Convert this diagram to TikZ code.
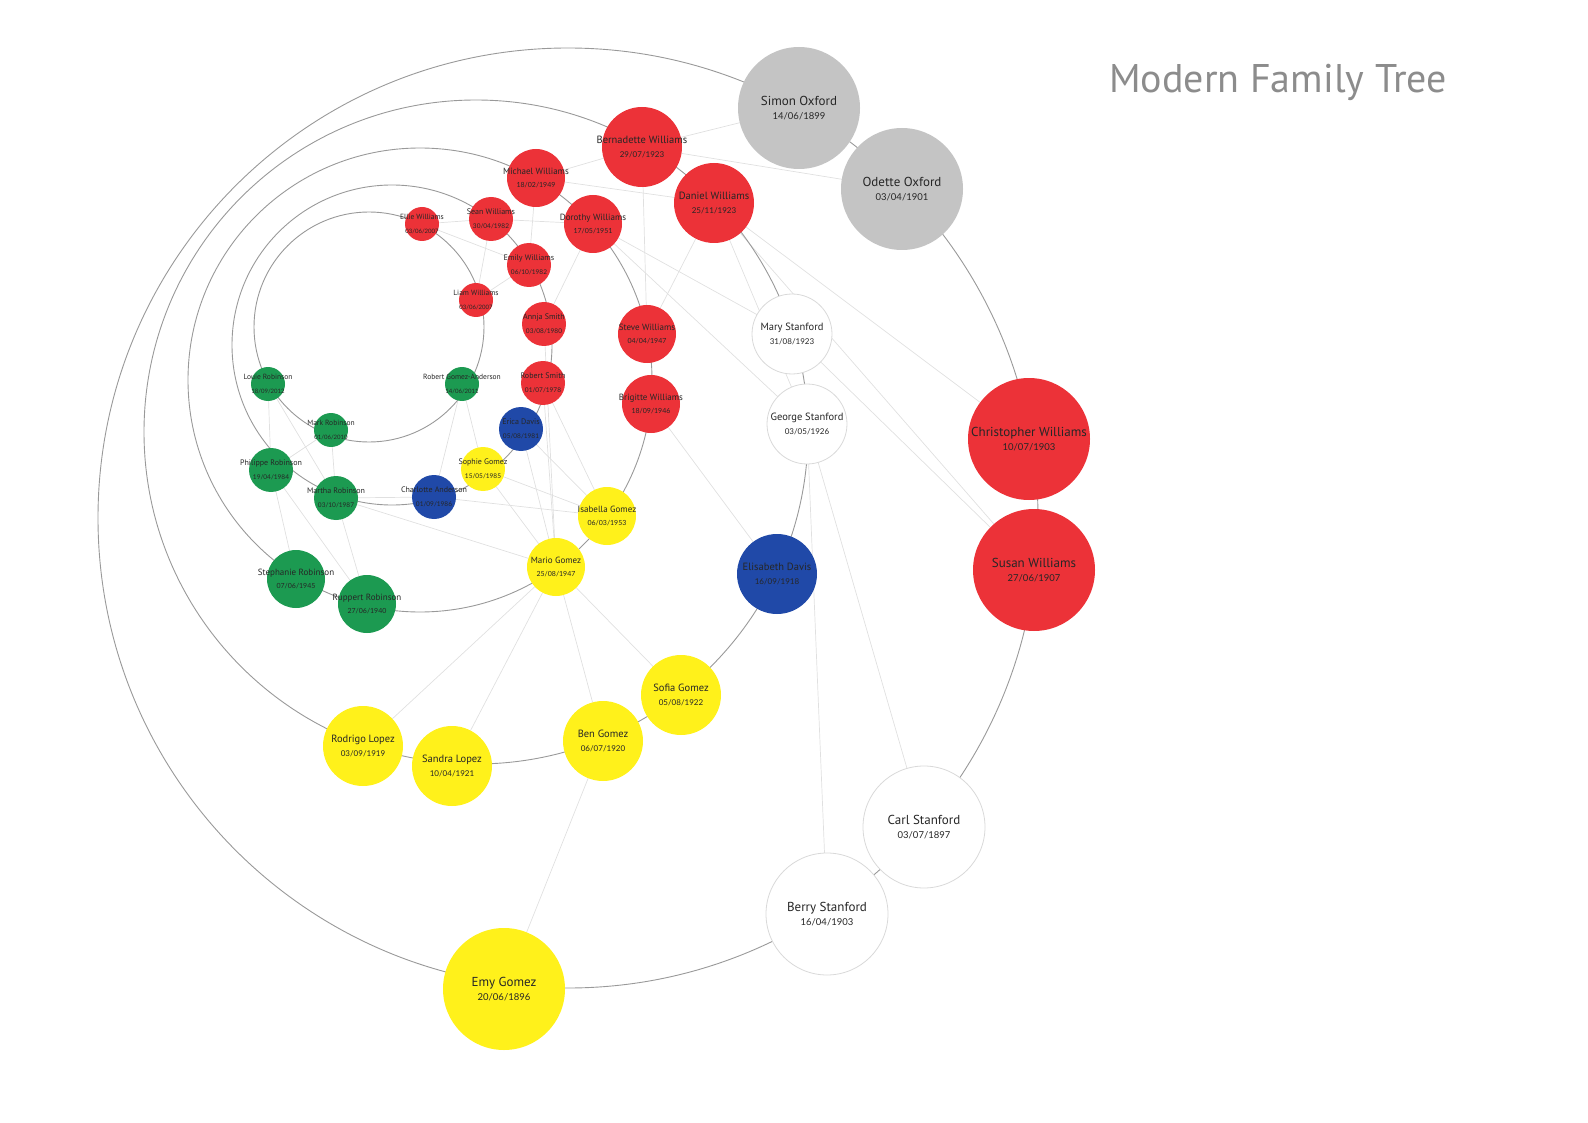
\documentclass[tikz,border=0pt]{standalone}
\usepackage{fontspec}
\setmainfont{PT Sans}
\newfontfamily\datefont{Lato}
\usetikzlibrary{backgrounds}
\definecolor{cred}{HTML}{EC3238}
\definecolor{cgray}{HTML}{C4C4C4}
\definecolor{cgreen}{HTML}{1C9A51}
\definecolor{cblue}{HTML}{2049A8}
\definecolor{cyel}{HTML}{FFF11B}
\tikzset{
 pbase/.style={circle,inner sep=0pt,outer sep=0pt},
 pred/.style={pbase,fill=cred},
 pgray/.style={pbase,fill=cgray},
 pgreen/.style={pbase,fill=cgreen},
 pblue/.style={pbase,fill=cblue},
 pyel/.style={pbase,fill=cyel},
 pwhite/.style={pbase,fill=white,draw=black!15,line width=0.8pt},
 ptext/.style={align=center,inner sep=0pt,text=black!85},
 rel/.style={draw=black!12,line width=0.7pt},
 arc/.style={draw=black!40,line width=0.9pt},
}
% \pers{id}{x}{y}{r}{style}{name}{date}{namesize}{datesize}
\newcommand\pers[9]{\node[#5,minimum size=#4*2pt] (#1) at (#2,#3) {};
 \node[ptext] (#1-t) at (#1) {\fontsize{#8}{#8}\selectfont #6\\[1.5pt]{\datefont\fontsize{#9}{#9}\selectfont #7}};}
\begin{document}
\begin{tikzpicture}[x=1pt,y=-1pt]
\useasboundingbox (0,0) rectangle (1588,1123);
\node[text=black!45,font=\fontsize{40}{40}\selectfont] (title) at (1278,82) {Modern Family Tree};
\pers{simon}{799}{108}{61}{pgray}{Simon Oxford}{14/06/1899}{13}{9.5}
\pers{odette}{902}{189}{61}{pgray}{Odette Oxford}{03/04/1901}{13}{9.5}
\pers{christ}{1029}{439}{61}{pred}{Christopher Williams}{10/07/1903}{13}{9.5}
\pers{susan}{1034}{570}{61}{pred}{Susan Williams}{27/06/1907}{13}{9.5}
\pers{carl}{924}{827}{61}{pwhite}{Carl Stanford}{03/07/1897}{13}{9.5}
\pers{berry}{827}{914}{61}{pwhite}{Berry Stanford}{16/04/1903}{13}{9.5}
\pers{emy}{504}{989}{61}{pyel}{Emy Gomez}{20/06/1896}{13}{9.5}
\pers{bern}{642}{147}{40}{pred}{Bernadette Williams}{29/07/1923}{10.5}{8}
\pers{daniel}{714}{203}{40}{pred}{Daniel Williams}{25/11/1923}{10.5}{8}
\pers{mary}{792}{334}{40}{pwhite}{Mary Stanford}{31/08/1923}{10.5}{8}
\pers{george}{807}{424}{40}{pwhite}{George Stanford}{03/05/1926}{10.5}{8}
\pers{elis}{777}{574}{40}{pblue}{Elisabeth Davis}{16/09/1918}{10.5}{8}
\pers{sofia}{681}{695}{40}{pyel}{Sofia Gomez}{05/08/1922}{10.5}{8}
\pers{ben}{603}{741}{40}{pyel}{Ben Gomez}{06/07/1920}{10.5}{8}
\pers{sandra}{452}{766}{40}{pyel}{Sandra Lopez}{10/04/1921}{10.5}{8}
\pers{rodrigo}{363}{746}{40}{pyel}{Rodrigo Lopez}{03/09/1919}{10.5}{8}
\pers{michael}{536}{178}{29}{pred}{Michael Williams}{18/02/1949}{9}{7}
\pers{dorothy}{593}{224}{29}{pred}{Dorothy Williams}{17/05/1951}{9}{7}
\pers{steve}{647}{334}{29}{pred}{Steve Williams}{04/04/1947}{9}{7}
\pers{brig}{651}{404}{29}{pred}{Brigitte Williams}{18/09/1946}{9}{7}
\pers{isab}{607}{516}{29}{pyel}{Isabella Gomez}{06/03/1953}{9}{7}
\pers{mario}{556}{567}{29}{pyel}{Mario Gomez}{25/08/1947}{9}{7}
\pers{steph}{296}{579}{29}{pgreen}{Stephanie Robinson}{07/06/1945}{9}{7}
\pers{rupp}{367}{604}{29}{pgreen}{Ruppert Robinson}{27/06/1940}{9}{7}
\pers{sean}{491}{219}{22}{pred}{Sean Williams}{30/04/1982}{8}{6.5}
\pers{emily}{529}{265}{22}{pred}{Emily Williams}{06/10/1982}{8}{6.5}
\pers{annja}{544}{324}{22}{pred}{Annja Smith}{03/08/1980}{8}{6.5}
\pers{rsmith}{543}{383}{22}{pred}{Robert Smith}{01/07/1978}{8}{6.5}
\pers{erica}{521}{429}{22}{pblue}{Erica Davis}{05/08/1981}{8}{6.5}
\pers{sophie}{483}{469}{22}{pyel}{Sophie Gomez}{15/05/1985}{8}{6.5}
\pers{charl}{434}{497}{22}{pblue}{Charlotte Anderson}{01/09/1986}{8}{6.5}
\pers{martha}{336}{498}{22}{pgreen}{Martha Robinson}{03/10/1987}{8}{6.5}
\pers{phil}{271}{470}{22}{pgreen}{Philippe Robinson}{19/04/1984}{8}{6.5}
\pers{ellie}{422}{224}{17}{pred}{Ellie Williams}{03/06/2007}{7.5}{6}
\pers{liam}{476}{300}{17}{pred}{Liam Williams}{03/06/2007}{7.5}{6}
\pers{rga}{462}{384}{17}{pgreen}{Robert Gomez-Anderson}{14/06/2011}{7.5}{6}
\pers{mark}{331}{430}{17}{pgreen}{Mark Robinson}{01/06/2010}{7.5}{6}
\pers{louie}{268}{384}{17}{pgreen}{Louie Robinson}{18/09/2012}{7.5}{6}
\coordinate (ring1) at (568,518);
\coordinate (ring2) at (476,432);
\coordinate (ring3) at (420,380);
\coordinate (ring4) at (392,345);
\coordinate (ring5) at (369,327);
\begin{pgfonlayer}{background}
\foreach \a/\b in {simon/bern,odette/bern,christ/daniel,susan/daniel,michael/daniel,michael/bern,
 steve/bern,steve/daniel,dorothy/mary,dorothy/george,brig/elis,mary/susan,daniel/george,
 george/carl,george/berry,emy/ben,mario/rodrigo,mario/sandra,mario/ben,mario/sofia,
 isab/rsmith,isab/sophie,isab/charl,isab/erica,mario/rsmith,mario/erica,mario/sophie,mario/martha,mario/annja,
 sophie/rga,charl/rga,annja/dorothy,emily/michael,emily/ellie,ellie/sean,sean/dorothy,liam/sean,liam/emily,
 steph/phil,rupp/phil,rupp/martha,phil/louie,phil/mark,martha/mark,martha/louie,martha/charl}
 \draw[rel] (\a) -- (\b);
\draw[arc] (ring1) circle[radius=470pt];
\draw[arc] (ring2) circle[radius=332pt];
\draw[arc] (ring3) circle[radius=232pt];
\draw[arc] (ring4) circle[radius=160pt];
\draw[arc] (ring5) circle[radius=115pt];
\end{pgfonlayer}
\end{tikzpicture}
\end{document}
